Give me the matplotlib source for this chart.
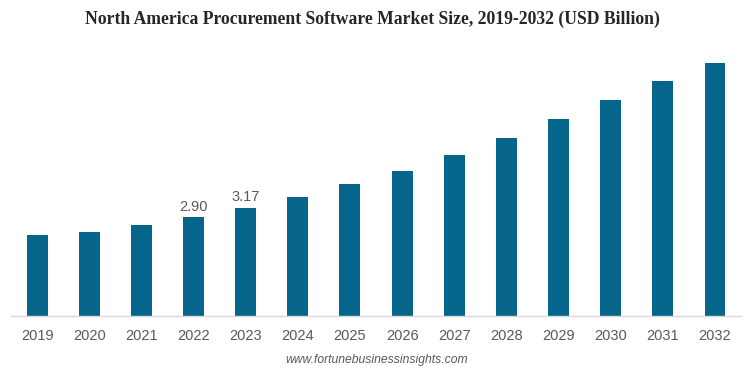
import matplotlib
matplotlib.use("Agg")
import matplotlib.pyplot as plt

years = ["2019", "2020", "2021", "2022", "2023", "2024", "2025", "2026",
         "2027", "2028", "2029", "2030", "2031", "2032"]
values = [2.37, 2.45, 2.67, 2.90, 3.17, 3.49, 3.87, 4.25,
          4.72, 5.22, 5.78, 6.33, 6.89, 7.42]
labelled = {"2022": "2.90", "2023": "3.17"}

fig = plt.figure(figsize=(7.45, 3.72), dpi=100)
ax = fig.add_axes([11/745, 1 - 316/372, 730/745, 266/372])

x = list(range(len(years)))
bars = ax.bar(x, values, width=0.40, color="#05658b", zorder=2)
ax.set_xlim(-0.5, len(years) - 0.5)
ax.set_ylim(0, 7.80)

for i, (yr, v) in enumerate(zip(years, values)):
    if yr in labelled:
        ax.text(i, v + 0.1, labelled[yr], ha="center", va="bottom",
                fontsize=10.5, color="#595959", family="Liberation Sans")

ax.set_xticks(x)
ax.set_xticklabels(years, fontsize=10.5, color="#595959", family="Liberation Sans")
ax.tick_params(axis="x", length=0, pad=9)
ax.set_yticks([])
for s in ["top", "right", "left"]:
    ax.spines[s].set_visible(False)
ax.spines["bottom"].set_color("#d9d9d9")
ax.spines["bottom"].set_linewidth(1.0)

fig.text(0.5, 1 - 19/372, "North America Procurement Software Market Size, 2019-2032 (USD Billion)",
         ha="center", va="center", fontsize=12.7, fontweight="bold",
         family="Liberation Serif", color="#262626")
fig.text(0.505, 1 - 360/372, "www.fortunebusinessinsights.com", ha="center", va="center",
         fontsize=8.7, style="italic", color="#595959", family="Liberation Sans")

fig.savefig("out.png", dpi=100)
